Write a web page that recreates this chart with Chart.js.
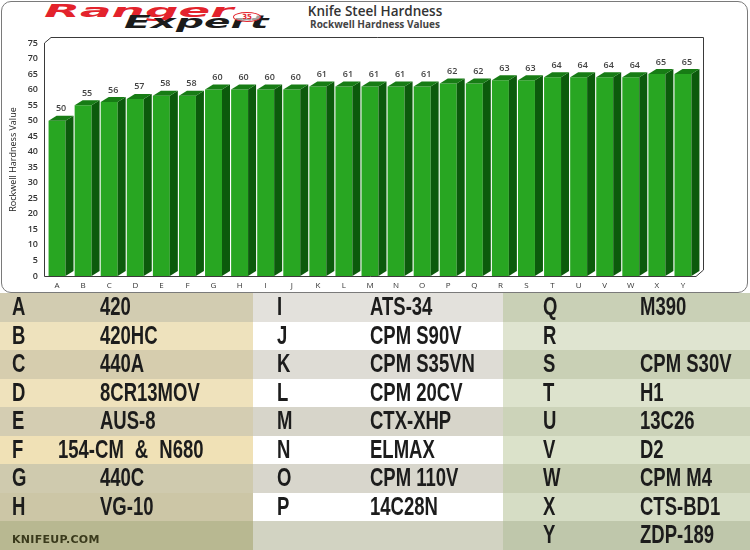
<!DOCTYPE html>
<html>
<head>
<meta charset="utf-8">
<script src="https://cdn.jsdelivr.net/npm/chart.js"></script>
<style>
  html, body { margin: 0; padding: 0; }
  body { width: 750px; height: 550px; position: relative; overflow: hidden; background: #fff; font-family: "Open Sans", sans-serif; }
  #card { position: absolute; left: 1px; top: 1px; width: 745px; height: 290px; border: 1px solid #7a7a7a; border-radius: 10px; background: #fff; }
  #chartBox { position: absolute; left: 0; top: 0; width: 750px; height: 293px; }
  .title { position: absolute; left: 0; width: 750px; text-align: center; color: #333; white-space: nowrap; }
  #t1 { top: 2px; font-size: 13.5px; font-weight: 600; }
  #t2 { top: 17px; font-size: 10px; font-weight: 700; color: #444; }
  .logo { position: absolute; font-family: "DejaVu Sans", sans-serif; font-weight: 900; font-style: italic; transform-origin: left top; white-space: nowrap; }
  #logo1 { left: 44px; top: 0px; font-size: 18px; color: #e3232c; transform: scaleX(2.6); }
  #logo2 { left: 124px; top: 12px; font-size: 17px; color: #1b1b1b; transform: scaleX(2.3); }
  #badge { position: absolute; left: 233px; top: 12px; width: 26px; height: 8px; border: 1.5px solid #e3232c; border-radius: 50%; color: #e3232c; font: bold 7px "DejaVu Sans", sans-serif; text-align: center; line-height: 8px; background: rgba(255,255,255,0.6); }
  #table { position: absolute; left: 0; top: 293px; width: 750px; height: 257px; }
  .cell { position: absolute; }
  .txt { position: absolute; font-family: "Liberation Sans", sans-serif; font-weight: bold; font-size: 25px; color: #1c1c1c; white-space: nowrap; transform: scaleX(0.74); transform-origin: left top; }
  #footer { position: absolute; left: 12px; top: 533px; font: bold 11px "DejaVu Sans", sans-serif; color: #3a3a1c; letter-spacing: 0.3px; }
</style>
</head>
<body>
<div id="card"></div>
<div class="logo" id="logo1">Ranger</div>
<div class="logo" id="logo2">Expert</div>
<div id="badge">35</div>
<div class="title" id="t1">Knife Steel Hardness</div>
<div class="title" id="t2">Rockwell Hardness Values</div>
<div id="chartBox"><canvas id="hardnessChart"></canvas></div>
<div id="table"></div>
<div id="footer">KNIFEUP.COM</div>
<script>
const letters = ['A','B','C','D','E','F','G','H','I','J','K','L','M','N','O','P','Q','R','S','T','U','V','W','X','Y'];
const hardness = [50,55,56,57,58,58,60,60,60,60,61,61,61,61,61,62,62,63,63,64,64,64,64,65,65];
const steels = ['420','420HC','440A','8CR13MOV','AUS-8','154-CM & N680','440C','VG-10',
                'ATS-34','CPM S90V','CPM S35VN','CPM 20CV','CTX-XHP','ELMAX','CPM 110V','14C28N',
                'M390','','CPM S30V','H1','13C26','D2','CPM M4','CTS-BD1','ZDP-189'];
const yTicks = [0,5,10,15,20,25,30,35,40,45,50,55,60,65,70,75];

const DEPTH_X = 8;
const DEPTH_Y = 5;

const bar3d = {
    id: 'bar3d',
    beforeDatasetsDraw(chart) {
        const { ctx, chartArea } = chart;
        const { left, right, top, bottom } = chartArea;
        ctx.save();
        ctx.strokeStyle = '#3a3a3a';
        ctx.lineWidth = 1;
        ctx.beginPath();
        ctx.moveTo(right, bottom + 0.5);
        ctx.lineTo(left + 0.5, bottom + 0.5);
        ctx.lineTo(left + 0.5, top);
        ctx.lineTo(left + 7, top - 6 + 0.5);
        ctx.lineTo(right + 7.5, top - 6 + 0.5);
        ctx.lineTo(right + 7.5, bottom - 6);
        ctx.lineTo(right, bottom + 0.5);
        ctx.stroke();
        ctx.restore();
    },
    afterDatasetsDraw(chart) {
        const ctx = chart.ctx;
        const meta = chart.getDatasetMeta(0);
        ctx.save();
        meta.data.forEach(function (bar, i) {
            const l = bar.x - bar.width / 2;
            const r = bar.x + bar.width / 2;
            // side face
            ctx.fillStyle = '#0c5a0c';
            ctx.beginPath();
            ctx.moveTo(r, bar.y);
            ctx.lineTo(r + DEPTH_X, bar.y - DEPTH_Y);
            ctx.lineTo(r + DEPTH_X, bar.base - DEPTH_Y);
            ctx.lineTo(r, bar.base);
            ctx.closePath();
            ctx.fill();
            // top face
            ctx.fillStyle = '#177c15';
            ctx.beginPath();
            ctx.moveTo(l, bar.y);
            ctx.lineTo(l + DEPTH_X, bar.y - DEPTH_Y);
            ctx.lineTo(r + DEPTH_X, bar.y - DEPTH_Y);
            ctx.lineTo(r, bar.y);
            ctx.closePath();
            ctx.fill();
            // value label
            ctx.fillStyle = '#444';
            ctx.font = '600 9px "Open Sans"';
            ctx.textAlign = 'center';
            ctx.textBaseline = 'middle';
            ctx.fillText(String(hardness[i]), bar.x + 4, bar.y - 12);
        });
        ctx.restore();
    }
};

new Chart(document.getElementById('hardnessChart'), {
    type: 'bar',
    data: {
        labels: letters,
        datasets: [{
            data: hardness,
            backgroundColor: '#28a622',
            borderWidth: 0,
            barPercentage: 0.65,
            categoryPercentage: 1
        }]
    },
    options: {
        responsive: true,
        maintainAspectRatio: false,
        animation: false,
        layout: { padding: { top: 43, right: 54, left: 0, bottom: 0 } },
        plugins: { legend: { display: false }, tooltip: { enabled: false } },
        scales: {
            x: {
                grid: { display: false, drawTicks: false },
                border: { display: false },
                ticks: { color: '#333', font: { size: 8, family: 'Open Sans' }, padding: 5 },
                afterFit(scale) { scale.height = 17; }
            },
            y: {
                min: 0,
                max: 75,
                afterBuildTicks(scale) { scale.ticks = yTicks.map(v => ({ value: v })); },
                grid: { display: false, drawTicks: false },
                border: { display: false },
                ticks: { color: '#333', font: { size: 9, weight: '600', family: 'Open Sans' }, padding: 6 },
                title: { display: true, text: 'Rockwell Hardness Value', color: '#222', font: { size: 9, family: 'Open Sans' }, padding: { top: 8, bottom: 0 } },
                afterFit(scale) { scale.width = 44; }
            }
        }
    },
    plugins: [bar3d]
});

// steel key table
const rowH = 257 / 9;
const columns = [
    { x: 0, w: 253, letterX: 12, nameX: 100, from: 0, count: 8,
      bg: ['#d2ccb1','#eee2bd','#d6cdae','#efe2bc','#d4cdb2','#f0e1b6','#cfcaae','#ccc6a6','#b8b891'] },
    { x: 253, w: 250, letterX: 277, nameX: 370, from: 8, count: 8,
      bg: ['#e3e1dc','#ffffff','#dedcd5','#ffffff','#d7d5ca','#ffffff','#d8d6cc','#ffffff','#d2d3c2'] },
    { x: 503, w: 247, letterX: 543, nameX: 640, from: 16, count: 9,
      bg: ['#c9d0b6','#dfe4d0','#c9d0b5','#dde3cd','#ccd3b9','#dbe2ca','#c7ceb2','#d6ddc5','#bfc7ab'] }
];
const table = document.getElementById('table');
columns.forEach(function (col) {
    for (let r = 0; r < 9; r++) {
        const cell = document.createElement('div');
        cell.className = 'cell';
        cell.style.left = col.x + 'px';
        cell.style.width = col.w + 'px';
        cell.style.top = (r * rowH) + 'px';
        cell.style.height = (rowH + 1) + 'px';
        cell.style.background = col.bg[r];
        table.appendChild(cell);
        if (r >= col.count) continue;
        const i = col.from + r;
        const letter = document.createElement('div');
        letter.className = 'txt';
        letter.textContent = letters[i];
        letter.style.left = col.letterX + 'px';
        letter.style.top = (r * rowH - 1) + 'px';
        table.appendChild(letter);
        const name = document.createElement('div');
        name.className = 'txt';
        name.textContent = steels[i];
        const wide = steels[i].length > 10;
        name.style.left = (wide ? 58 : col.nameX) + 'px';
        name.style.top = (r * rowH - 1) + 'px';
        if (wide) name.style.wordSpacing = '8px';
        table.appendChild(name);
    }
});
</script>
</body>
</html>
